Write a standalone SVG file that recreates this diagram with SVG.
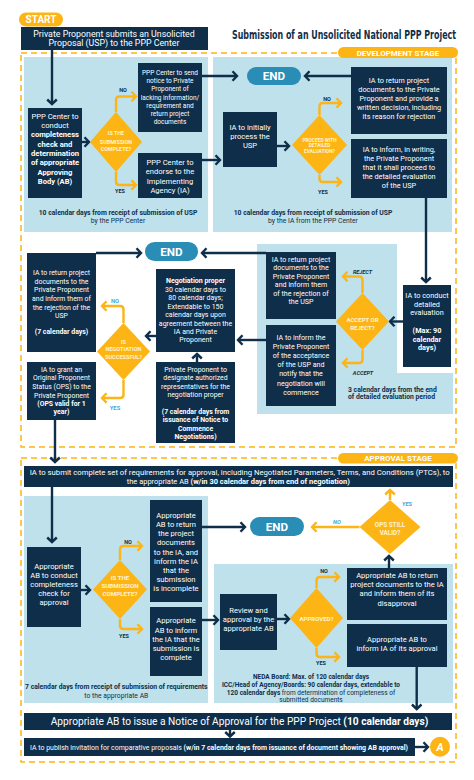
<svg xmlns="http://www.w3.org/2000/svg" width="474" height="780" viewBox="0 0 474 780">
<defs>
<style>
.bx{fill:#0F2E49}
.pn{fill:#BEE1EC}
.dm{fill:#FDB515}
.end{fill:#2A8DB6}
.t{font-family:Roboto,"Liberation Sans",sans-serif;fill:#fff;text-anchor:middle}
.b{font-weight:bold}
.dt{font-family:Roboto,"Liberation Sans",sans-serif;fill:#FFF3D2;text-anchor:middle;font-weight:bold}
.cap{font-family:Roboto,"Liberation Sans",sans-serif;fill:#0F2E49;text-anchor:middle}
.lbl{font-family:Roboto,"Liberation Sans",sans-serif;fill:#0F2E49;text-anchor:middle;font-weight:bold;font-size:5.5px}
.lb2{font-family:Roboto,"Liberation Sans",sans-serif;fill:#45A8DE;text-anchor:middle;font-weight:bold;font-size:5.8px}
.it{font-style:italic}
.ln{stroke:#0F2E49;stroke-width:2.4;fill:none;marker-end:url(#an)}
.lo{stroke:#FDB515;stroke-width:2.4;fill:none;marker-end:url(#ao)}
.dash{fill:none;stroke:#FDB515;stroke-width:1.5;stroke-dasharray:6 4}
</style>
<marker id="an" markerUnits="userSpaceOnUse" markerWidth="12" markerHeight="12" refX="6" refY="6" orient="auto"><path d="M1.5,1.2 L6,6 L1.5,10.8" fill="none" stroke="#0F2E49" stroke-width="2.4"/></marker>
<marker id="ao" markerUnits="userSpaceOnUse" markerWidth="12" markerHeight="12" refX="6" refY="6" orient="auto"><path d="M1.5,1.2 L6,6 L1.5,10.8" fill="none" stroke="#FDB515" stroke-width="2.4"/></marker>
</defs>
<rect width="474" height="780" fill="#fff"/>

<!-- Stage frames and panels -->
<g id="frames">
<rect class="dash" x="21" y="53" width="435" height="394"/>
<rect class="dash" x="21" y="458" width="435" height="304"/>
<rect class="pn" x="24" y="57" width="184" height="175"/>
<rect class="pn" x="213" y="57" width="239" height="175"/>
<polygon class="pn" points="257,244 397,244 397,373 453,373 453,414 257,414"/>
<rect class="pn" x="24" y="496" width="184" height="207"/>
<rect class="pn" x="214" y="564" width="239" height="139"/>
<rect class="dm" x="338" y="47" width="120" height="11" rx="5.5"/>
<text class="t b" x="398" y="55.6" font-size="8">DEVELOPMENT STAGE</text>
<rect class="dm" x="338" y="453" width="120" height="10.5" rx="5.2"/>
<text class="t b" x="398" y="461.3" font-size="8">APPROVAL STAGE</text>
</g>

<text transform="translate(456,38.5) scale(0.7,1)" x="0" y="0" text-anchor="end" font-family="'DejaVu Sans Condensed','Liberation Sans Narrow',sans-serif" font-weight="bold" font-size="12.3" fill="#0F2E49" textLength="320" lengthAdjust="spacingAndGlyphs">Submission of an Unsolicited National PPP Project</text>

<!-- Connectors -->
<g id="connectors">
<path class="ln" d="M52,50 V104"/>
<path class="ln" d="M82,142 H89"/>
<path class="lo" d="M116,112 V100 Q116,96.5 119.5,96.5 H136"/>
<path class="lo" d="M116,172 V181.5 Q116,185 119.5,185 H136"/>
<path class="ln" d="M202,76 H237"/>
<path class="ln" d="M202,160 H220"/>
<path class="ln" d="M351,76 H305"/>
<path class="ln" d="M277,146 H289"/>
<path class="lo" d="M319.5,115 V106.5 Q319.5,103 323,103 H341"/>
<path class="lo" d="M319.5,175 V178.5 Q319.5,182 323,182 H341"/>
<path class="ln" d="M426,198 V282"/>
<path class="ln" d="M403,321.5 H390"/>
<path class="lo" d="M362.5,293 V280 Q362.5,276.5 359,276.5 H343"/>
<path class="lo" d="M362.5,350 V359.5 Q362.5,363 359,363 H343"/>
<path class="ln" d="M266,340 H238"/>
<path class="ln" d="M266,253 H202"/>
<path class="ln" d="M96,253 H141"/>
<path class="ln" d="M156,336 H146"/>
<path class="lo" d="M123.5,323 V309.5 Q123.5,306 120,306 H102"/>
<path class="lo" d="M123.5,380 V394.5 Q123.5,398 120,398 H102"/>
<path class="ln" d="M197,362 V354"/>
<path class="ln" d="M55,420 V462"/>
<path class="ln" d="M52,487 V542"/>
<path class="ln" d="M81,590 H90"/>
<path class="lo" d="M120,560 V549.5 Q120,546 123.5,546 H142"/>
<path class="lo" d="M120,619 V625.5 Q120,629 123.5,629 H142"/>
<path class="ln" d="M202,527 H245"/>
<path class="lo" d="M390,500 V490"/>
<path class="lo" d="M359.5,527 H312"/>
<path class="ln" d="M389,568 V556"/>
<path class="ln" d="M416.7,667 V709"/>
<path class="lo" d="M316.5,588 V580.5 Q316.5,577 320,577 H339"/>
<path class="lo" d="M316.5,648 V653.5 Q316.5,657 320,657 H339"/>
<path class="ln" d="M277,619 H289"/>
<path class="ln" d="M202,620 H218"/>
<path class="ln" d="M230,730 V736.5"/>
<path class="ln" d="M415,747 H428"/>
<text class="lbl" x="123" y="91.8">NO</text>
<text class="lbl" x="120" y="193">YES</text>
<text class="lbl" x="327" y="100.5">NO</text>
<text class="lbl" x="323" y="193.5">YES</text>
<text class="lbl it" x="362.5" y="274.3">REJECT</text>
<text class="lbl it" x="363" y="374.5">ACCEPT</text>
<text class="lb2" x="115" y="303">NO</text>
<text class="lb2" x="115" y="410">YES</text>
<text class="lbl" x="128" y="543.5">NO</text>
<text class="lbl" x="124" y="638">YES</text>
<text class="lb2 it" x="407" y="506">YES</text>
<text class="lb2 it" x="337" y="523.5">NO</text>
<text class="lbl" x="324" y="573">NO</text>
<text class="lbl" x="321" y="665">YES</text>
</g>

<g id="start">
<rect class="dm" x="19" y="12.5" width="44" height="14" rx="7"/>
<text class="t b" x="41" y="23.3" font-size="10">START</text>
</g>
<g id="submit-usp">
<rect class="bx" x="21" y="27" width="187" height="23"/>
<text class="t" font-size="8.8"><tspan x="114" y="37">Private Proponent submits an Unsolicited</tspan><tspan x="114" y="46.3">Proposal (USP) to the PPP Center</tspan></text>
</g>

<g id="ppp-check">
<rect class="bx" x="28" y="108" width="54" height="90"/>
<text class="t" font-size="7.6"><tspan x="55" y="118.7">PPP Center to</tspan><tspan x="55" y="128">conduct</tspan><tspan class="b" x="55" y="137.3">completeness</tspan><tspan class="b" x="55" y="146.6">check and</tspan><tspan class="b" x="55" y="155.9">determination</tspan><tspan class="b" x="55" y="165.2">of appropriate</tspan><tspan class="b" x="55" y="174.5">Approving</tspan><tspan class="b" x="55" y="183.6">Body (AB)</tspan></text>
</g>
<g id="dec-complete-1">
<polygon class="dm" points="116,112 142,142 116,172 90,142"/>
<text class="dt" font-size="5.4"><tspan x="116" y="135.2">IS THE</tspan><tspan x="116" y="143.6">SUBMISSION</tspan><tspan x="116" y="151">COMPLETE?</tspan></text>
</g>
<g id="ppp-notice">
<rect class="bx" x="138" y="63" width="64" height="69"/>
<text class="t" font-size="6.5"><tspan x="170" y="75">PPP Center to send</tspan><tspan x="170" y="83.2">notice to Private</tspan><tspan x="170" y="91.3">Proponent of</tspan><tspan x="170" y="99.5">lacking information/</tspan><tspan x="170" y="107.7">requirement and</tspan><tspan x="170" y="115.8">return project</tspan><tspan x="170" y="124">documents</tspan></text>
</g>
<g id="ppp-endorse">
<rect class="bx" x="138" y="153" width="64" height="45"/>
<text class="t" font-size="7.6"><tspan x="170" y="165">PPP Center to</tspan><tspan x="170" y="174.3">endorse to the</tspan><tspan x="170" y="183.6">Implementing</tspan><tspan x="170" y="192.9">Agency (IA)</tspan></text>
</g>
<g id="cap1">
<text class="cap" font-size="6.8"><tspan class="b" x="118" y="214.5">10 calendar days from receipt of submission of USP</tspan><tspan x="118" y="223.3">by the PPP Center</tspan></text>
</g>

<g id="end1">
<rect class="end" x="247" y="67" width="54" height="18" rx="9"/>
<text class="t b" x="274" y="80.3" font-size="11.7">END</text>
</g>
<g id="ia-return-1">
<rect class="bx" x="351" y="67" width="96" height="67"/>
<text class="t" font-size="7.3"><tspan x="399" y="82.6">IA to return project</tspan><tspan x="399" y="91.7">documents to the Private</tspan><tspan x="399" y="100.8">Proponent and provide a</tspan><tspan x="399" y="109.9">written decision, including</tspan><tspan x="399" y="118.8">its reason for rejection</tspan></text>
</g>
<g id="ia-process">
<rect class="bx" x="223" y="112" width="54" height="55"/>
<text class="t" font-size="7.6"><tspan x="250" y="130">IA to initially</tspan><tspan x="250" y="139.4">process the</tspan><tspan x="250" y="148.4">USP</tspan></text>
</g>
<g id="dec-proceed">
<polygon class="dm" points="319.5,115 347,145 319.5,175 292,145"/>
<text class="dt" font-size="4.8"><tspan x="319.5" y="141.7">PROCEED WITH</tspan><tspan x="319.5" y="147.4">DETAILED</tspan><tspan x="319.5" y="153.4">EVALUATION?</tspan></text>
</g>
<g id="ia-inform-proceed">
<rect class="bx" x="351" y="139" width="96" height="59"/>
<text class="t" font-size="7.3"><tspan x="399" y="151.6">IA to inform, in writing,</tspan><tspan x="399" y="160.6">the Private Proponent</tspan><tspan x="399" y="169.6">that it shall proceed to</tspan><tspan x="399" y="178.6">the detailed evaluation</tspan><tspan x="399" y="187.6">of the USP</tspan></text>
</g>
<g id="cap2">
<text class="cap" font-size="6.8"><tspan class="b" x="313" y="214.5">10 calendar days from receipt of submission of USP</tspan><tspan x="313" y="223.3">by the IA from the PPP Center</tspan></text>
</g>

<g id="ia-evaluate">
<rect class="bx" x="403" y="285" width="48" height="82"/>
<text class="t" font-size="7.3"><tspan x="427" y="298.3">IA to conduct</tspan><tspan x="427" y="306.6">detailed</tspan><tspan x="427" y="314.9">evaluation</tspan><tspan class="b" x="427" y="332.6">(Max: 90</tspan><tspan class="b" x="427" y="341.7">calendar</tspan><tspan class="b" x="427" y="350.3">days)</tspan></text>
</g>
<g id="dec-accept">
<polygon class="dm" points="362.5,293 389,321.5 362.5,350 336,321.5"/>
<text class="dt" font-size="6"><tspan x="362.5" y="322.1">ACCEPT OR</tspan><tspan x="362.5" y="329.8">REJECT?</tspan></text>
</g>
<g id="ia-return-2">
<rect class="bx" x="266" y="252" width="70" height="67"/>
<text class="t" font-size="7.1"><tspan x="301" y="261.8">IA to return project</tspan><tspan x="301" y="270.3">documents to the</tspan><tspan x="301" y="278.8">Private Proponent</tspan><tspan x="301" y="287.3">and inform them</tspan><tspan x="301" y="295.8">of the rejection of</tspan><tspan x="301" y="304.3">the USP</tspan></text>
</g>
<g id="ia-accept">
<rect class="bx" x="266" y="325" width="70" height="81"/>
<text class="t" font-size="7.1"><tspan x="301" y="339.8">IA to inform the</tspan><tspan x="301" y="348.8">Private Proponent</tspan><tspan x="301" y="357.8">of the acceptance</tspan><tspan x="301" y="366.8">of the USP and</tspan><tspan x="301" y="376.3">notify that the</tspan><tspan x="301" y="385.6">negotiation will</tspan><tspan x="301" y="395">commence</tspan></text>
</g>
<g id="cap3">
<text class="cap b" font-size="6.8" style="text-anchor:start"><tspan x="348" y="391.6">3 calendar days from the end</tspan><tspan x="348" y="399">of detailed evaluation period</tspan></text>
</g>

<g id="end2">
<rect class="end" x="145" y="242" width="53" height="19" rx="9.5"/>
<text class="t b" x="171.5" y="255.8" font-size="11.7">END</text>
</g>
<g id="ia-return-3">
<rect class="bx" x="27" y="253" width="69" height="99"/>
<text class="t" font-size="6.9"><tspan x="61.5" y="275.2">IA to return project</tspan><tspan x="61.5" y="283.8">documents to the</tspan><tspan x="61.5" y="292.4">Private Proponent</tspan><tspan x="61.5" y="301">and inform them of</tspan><tspan x="61.5" y="309.6">the rejection of the</tspan><tspan x="61.5" y="318.2">USP</tspan><tspan class="b" x="61.5" y="334.2">(7 calendar days)</tspan></text>
</g>
<g id="negotiation">
<rect class="bx" x="156" y="269" width="79" height="83"/>
<text class="t" font-size="7"><tspan class="b" x="195.5" y="283.2">Negotiation proper</tspan><tspan x="195.5" y="291.7">30 calendar days to</tspan><tspan x="195.5" y="300.2">80 calendar days;</tspan><tspan x="195.5" y="308.6">Extendable to 150</tspan><tspan x="195.5" y="317.1">calendar days upon</tspan><tspan x="195.5" y="325.5">agreement between the</tspan><tspan x="195.5" y="333.9">IA and Private</tspan><tspan x="195.5" y="342.4">Proponent</tspan></text>
</g>
<g id="dec-negotiation">
<polygon class="dm" points="123.5,323 150,351.5 123.5,380 97,351.5"/>
<text class="dt" font-size="5.6"><tspan x="123.5" y="344.3">IS</tspan><tspan x="123.5" y="351.4">NEGOTIATION</tspan><tspan x="123.5" y="358.7">SUCCESSFUL?</tspan></text>
</g>
<g id="ia-grant-ops">
<rect class="bx" x="27" y="362" width="69" height="58"/>
<text class="t" font-size="6.9"><tspan x="61.5" y="371.8">IA to grant an</tspan><tspan x="61.5" y="380.4">Original Proponent</tspan><tspan x="61.5" y="389">Status (OPS) to the</tspan><tspan x="61.5" y="397.5">Private Proponent</tspan><tspan class="b" x="61.5" y="405.8">(OPS valid for 1</tspan><tspan class="b" x="61.5" y="414.2">year)</tspan></text>
</g>
<g id="pp-designate">
<rect class="bx" x="156" y="362" width="79" height="81"/>
<text class="t" font-size="6.9"><tspan x="195.5" y="371.5">Private Proponent to</tspan><tspan x="195.5" y="380.1">designate authorized</tspan><tspan x="195.5" y="388.5">representatives for the</tspan><tspan x="195.5" y="397.1">negotiation proper</tspan><tspan class="b" x="195.5" y="413.8">(7 calendar days from</tspan><tspan class="b" x="195.5" y="422.2">issuance of Notice to</tspan><tspan class="b" x="195.5" y="430.8">Commence</tspan><tspan class="b" x="195.5" y="439.2">Negotiations)</tspan></text>
</g>

<g id="ia-submit">
<rect class="bx" x="24" y="466" width="429" height="21"/>
<text class="t" font-size="7.3" x="239.7" y="475.3" textLength="420" lengthAdjust="spacingAndGlyphs">IA to submit complete set of requirements for approval, including Negotiated Parameters, Terms, and Conditions (PTCs), to</text>
<text class="t" font-size="7.3" x="238.3" y="484.3" textLength="223" lengthAdjust="spacingAndGlyphs">the appropriate AB <tspan class="b">(w/in 30 calendar days from end of negotiation)</tspan></text>
</g>
<g id="ab-check">
<rect class="bx" x="27" y="547" width="54" height="80"/>
<text class="t" font-size="7.6"><tspan x="54" y="568.7">Appropriate</tspan><tspan x="54" y="577.6">AB to conduct</tspan><tspan x="54" y="586.7">completeness</tspan><tspan x="54" y="596">check for</tspan><tspan x="54" y="605.3">approval</tspan></text>
</g>
<g id="dec-complete-2">
<polygon class="dm" points="120,560 147,589.5 120,619 93,589.5"/>
<text class="dt" font-size="6.2"><tspan x="120" y="579.9">IS THE</tspan><tspan x="120" y="587.9">SUBMISSION</tspan><tspan x="120" y="595.5">COMPLETE?</tspan></text>
</g>
<g id="ab-return-incomplete">
<rect class="bx" x="150" y="500" width="52" height="102"/>
<text class="t" font-size="7.6"><tspan x="176" y="517.7">Appropriate</tspan><tspan x="176" y="526.9">AB to return</tspan><tspan x="176" y="536.1">the project</tspan><tspan x="176" y="545.3">documents</tspan><tspan x="176" y="554.5">to the IA, and</tspan><tspan x="176" y="563.7">inform the IA</tspan><tspan x="176" y="572.9">that the</tspan><tspan x="176" y="582.1">submission</tspan><tspan x="176" y="591.3">is incomplete</tspan></text>
</g>
<g id="ab-inform-complete">
<rect class="bx" x="150" y="607" width="52" height="69"/>
<text class="t" font-size="7.6"><tspan x="176" y="623.4">Appropriate</tspan><tspan x="176" y="632.7">AB to inform</tspan><tspan x="176" y="642">the IA that the</tspan><tspan x="176" y="651">submission is</tspan><tspan x="176" y="660.4">complete</tspan></text>
</g>
<g id="end3">
<rect class="end" x="250" y="517" width="54" height="19" rx="9.5"/>
<text class="t b" x="277" y="530.8" font-size="11.7">END</text>
</g>
<g id="dec-ops">
<polygon class="dm" points="390,500 420.5,527 390,554 359.5,527"/>
<text class="dt" font-size="6.3"><tspan x="390" y="527.2">OPS STILL</tspan><tspan x="390" y="535.2">VALID?</tspan></text>
</g>
<g id="ab-review">
<rect class="bx" x="220" y="594" width="57" height="56"/>
<text class="t" font-size="7.6"><tspan x="248.5" y="612.7">Review and</tspan><tspan x="248.5" y="622">approval by the</tspan><tspan x="248.5" y="630.7">appropriate AB</tspan></text>
</g>
<g id="dec-approved">
<polygon class="dm" points="316.5,588 343,618 316.5,648 290,618"/>
<text class="dt" font-size="6" x="316.5" y="621.4">APPROVED?</text>
</g>
<g id="ab-disapproval">
<rect class="bx" x="347" y="568" width="100" height="52"/>
<text class="t" font-size="7.6"><tspan x="397" y="577.7">Appropriate AB to return</tspan><tspan x="397" y="587">project documents to the IA</tspan><tspan x="397" y="596.3">and inform them of its</tspan><tspan x="397" y="605.6">disapproval</tspan></text>
</g>
<g id="ab-approval">
<rect class="bx" x="347" y="624" width="100" height="43"/>
<text class="t" font-size="7.6"><tspan x="397" y="642">Appropriate AB to</tspan><tspan x="397" y="651">inform IA of its approval</tspan></text>
</g>
<g id="cap4">
<text class="cap" font-size="6.8"><tspan class="b" x="116.3" y="689">7 calendar days from receipt of submission of requirements</tspan><tspan x="116.3" y="697.5">to the appropriate AB</tspan></text>
</g>
<g id="cap5">
<text class="cap" font-size="6.5"><tspan class="b" x="311" y="679">NEDA Board: Max. of 120 calendar days</tspan><tspan class="b" x="311" y="687.2">ICC/Head of Agency/Boards: 90 calendar days, extendable to</tspan><tspan x="311" y="694.7"><tspan class="b">120 calendar days</tspan> from determination of completeness of</tspan><tspan x="311" y="701.8">submitted documents</tspan></text>
</g>

<g id="notice-approval">
<rect class="bx" x="24" y="713" width="428" height="17"/>
<text class="t" font-size="10.2" x="239.5" y="725.2">Appropriate AB to issue a Notice of Approval for the PPP Project <tspan class="b">(10 calendar days)</tspan></text>
</g>
<g id="publish">
<rect class="bx" x="24" y="738" width="391" height="18"/>
<text class="t" font-size="6.8" x="30" y="749.5" style="text-anchor:start" textLength="378" lengthAdjust="spacingAndGlyphs">IA to publish invitation for comparative proposals <tspan class="b">(w/in 7 calendar days from issuance of document showing AB approval)</tspan></text>
</g>
<g id="connector-a">
<circle class="dm" cx="440" cy="746.7" r="10"/>
<text class="t b it" x="440" y="750.6" font-size="11">A</text>
</g>
</svg>
